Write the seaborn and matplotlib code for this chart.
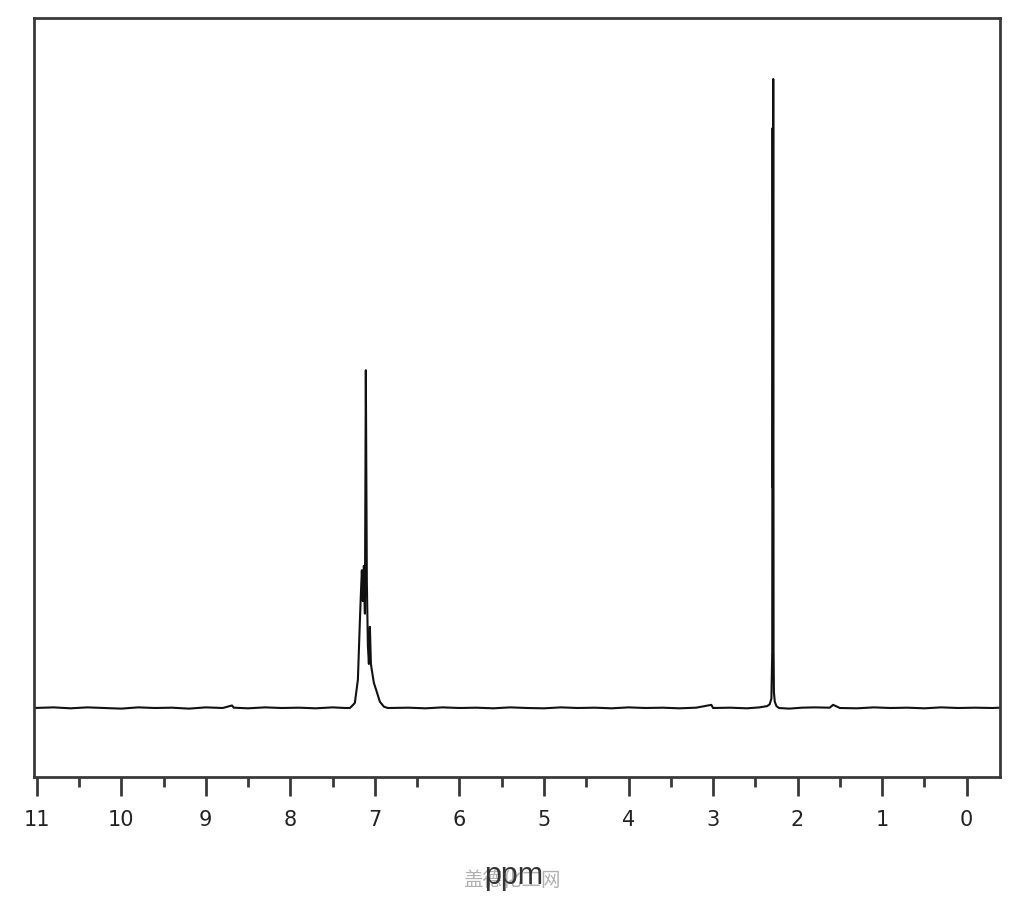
import matplotlib
matplotlib.use("Agg")
import matplotlib.pyplot as plt
import seaborn as sns
import pandas as pd
from matplotlib.ticker import MultipleLocator

# Chemical shift (ppm) and intensity (descending ppm)
ppm = [11.03, 10.8, 10.6, 10.4, 10.2, 10.0, 9.8, 9.6, 9.4, 9.2, 9.0, 8.8,
       8.69, 8.67, 8.5, 8.3, 8.1, 7.9, 7.7, 7.5, 7.35,
       7.296, 7.272, 7.237, 7.201, 7.178, 7.166, 7.154, 7.142, 7.130, 7.118,
       7.107, 7.095, 7.083, 7.071, 7.059, 7.047, 7.036, 7.012, 6.976, 6.941,
       6.893, 6.846,
       6.6, 6.4, 6.2, 6.0, 5.8, 5.6, 5.4, 5.2, 5.0, 4.8, 4.6, 4.4, 4.2, 4.0,
       3.8, 3.6, 3.4, 3.2, 3.02, 3.0, 2.8, 2.6, 2.45, 2.36,
       2.33, 2.31, 2.30, 2.296, 2.292, 2.288, 2.284, 2.28, 2.27, 2.25, 2.22,
       2.1, 1.95, 1.8, 1.62, 1.58, 1.5, 1.3, 1.1, 0.9, 0.7, 0.5, 0.3, 0.1,
       -0.1, -0.3, -0.394]
intensity = [0.0, 0.1, -0.05, 0.1, 0.0, -0.1, 0.1, 0.0, 0.05, -0.1, 0.1, 0.0,
             0.4, 0.05, -0.05, 0.1, 0.0, 0.05, -0.05, 0.1, 0.0,
             0.0, 0.3, 0.8, 4.5, 13.6, 18.0, 21.9, 17.0, 22.6, 15.0,
             53.7, 20.0, 10.0, 7.0, 12.9, 7.0, 6.0, 4.0, 2.5, 1.0,
             0.2, 0.0,
             0.05, -0.05, 0.1, 0.0, 0.05, -0.05, 0.1, 0.0, -0.05, 0.1, 0.0, 0.05, -0.05, 0.1,
             0.0, 0.05, -0.05, 0.05, 0.5, 0.0, 0.05, -0.05, 0.1, 0.3,
             0.6, 1.5, 9.0, 92.2, 35.0, 100.0, 9.0, 2.5, 1.0, 0.3, 0.0,
             -0.1, 0.05, 0.1, 0.05, 0.5, 0.0, -0.05, 0.1, 0.0, 0.05, -0.05, 0.1, 0.0,
             0.05, 0.0, 0.05]

major_ticks = [11, 10, 9, 8, 7, 6, 5, 4, 3, 2, 1, 0]
tick_labels = [str(t) for t in major_ticks]

df = pd.DataFrame({"ppm": ppm, "intensity": intensity})

sns.set_style("white")
plt.rcParams["font.family"] = ["DejaVu Sans"]

fig = plt.figure(figsize=(10.24, 9.0), dpi=100)
ax = fig.add_axes([34 / 1024, 1 - 777 / 900, (1000 - 34) / 1024, (777 - 18) / 900])

sns.lineplot(data=df, x="ppm", y="intensity", sort=False, estimator=None,
             color="#111111", linewidth=1.5, ax=ax)

ax.set_xlim(11.032, -0.394)
ax.set_ylim(-10.97, 109.7)
ax.set_xticks(major_ticks)
ax.set_xticklabels(tick_labels)
ax.xaxis.set_minor_locator(MultipleLocator(0.5))
ax.set_yticks([])
ax.set_xlabel("")
ax.set_ylabel("")

for s in ax.spines.values():
    s.set_visible(True)
    s.set_color("#3a3a3a")
    s.set_linewidth(2)

ax.tick_params(axis="x", which="major", direction="out", length=14, width=2,
               color="#3a3a3a", labelsize=15, pad=10, bottom=True, labelcolor="#222222")
ax.tick_params(axis="x", which="minor", direction="out", length=7, width=2,
               color="#3a3a3a", bottom=True)

fig.text(512 / 1024, 1 - 880 / 900, "盖德化工网", ha="center", va="center",
         fontsize=14, color="#b0b0b0", family=["Noto Sans CJK SC", "DejaVu Sans"])
fig.text(514 / 1024, 1 - 884 / 900, "ppm", ha="center", va="baseline",
         fontsize=22, color="#333333", family=["Liberation Sans", "DejaVu Sans"])

fig.savefig("out.png", dpi=100)
